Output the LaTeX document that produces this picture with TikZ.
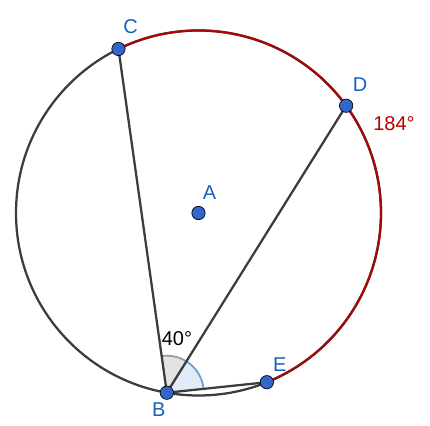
\documentclass[tikz,border=0pt]{standalone}
\usepackage{fontspec}
\setmainfont{Liberation Sans}
\usetikzlibrary{calc}
\definecolor{ptblue}{RGB}{52,101,200}
\definecolor{lblblue}{RGB}{21,96,192}
\definecolor{arcred}{RGB}{160,10,10}
\definecolor{txtred}{RGB}{185,0,0}
\definecolor{segdark}{RGB}{60,60,60}
\definecolor{angfill}{RGB}{226,236,248}
\definecolor{angline}{RGB}{110,155,215}
\tikzset{
  circ/.style={segdark, line width=1.7pt},
  redarc/.style={arcred, line width=1.7pt},
  seg/.style={segdark, line width=1.7pt},
  pt/.style={circle, fill=ptblue, draw=black, line width=0.5pt, inner sep=0pt, minimum size=10pt},
  lbl/.style={lblblue, font=\fontsize{15}{18}\selectfont, inner sep=0pt},
  deg/.style={font=\fontsize{15}{18}\selectfont, inner sep=0pt}
}

\begin{document}
\begin{tikzpicture}[x=0.75pt, y=0.75pt]
  \useasboundingbox (0,0) rectangle (430,426);
  \def\R{182.5}

  \coordinate (A) at (198.5,213);
  \coordinate (B) at ($(A)+(-100:\R)$);
  \coordinate (C) at ($(A)+(116:\R)$);
  \coordinate (D) at ($(A)+(36:\R)$);
  \coordinate (E) at ($(A)+(-68:\R)$);

  % circle and the 184 degree arc
  \draw[circ] (A) circle[radius=\R];
  \draw[redarc] (C) arc[start angle=116, end angle=-68, radius=\R];

  % angle marks at B
  \fill[gray!22] (B) -- ([shift={(58:37)}]B) arc[start angle=58, end angle=98, radius=37] -- cycle;
  \draw[gray!80, line width=1.3pt] ([shift={(58:37)}]B) arc[start angle=58, end angle=98, radius=37];
  \fill[angfill] (B) -- ([shift={(6:37)}]B) arc[start angle=6, end angle=58, radius=37] -- cycle;
  \draw[angline, line width=1.3pt] ([shift={(6:37)}]B) arc[start angle=6, end angle=58, radius=37];

  % chords
  \draw[seg] (B) -- (C);
  \draw[seg] (B) -- (D);
  \draw[seg] (B) -- (E);

  % points
  \node[pt] (a) at (A) {};
  \node[pt] (b) at (B) {};
  \node[pt] (c) at (C) {};
  \node[pt] (d) at (D) {};
  \node[pt] (e) at (E) {};

  % labels
  \node[lbl] at ([shift={(11,20)}]a) {A};
  \node[lbl] at ([shift={(-8,-17)}]b) {B};
  \node[lbl] at ([shift={(12,22)}]c) {C};
  \node[lbl] at ([shift={(14,21)}]d) {D};
  \node[lbl] at ([shift={(13,18)}]e) {E};
  \node[deg, txtred] at (394,302) {184°};
  \node[deg] at (177,87) {40°};
\end{tikzpicture}
\end{document}
